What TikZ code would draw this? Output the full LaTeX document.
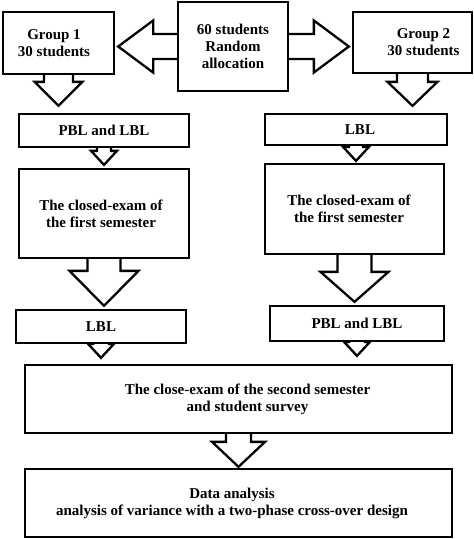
\documentclass[tikz,border=0pt]{standalone}
\usepackage{fontspec}
\setmainfont{Liberation Serif}
\usetikzlibrary{calc}

% block arrow pointing down: source, target, shaft half width, head half width, head length, gap
\newcommand{\blockdown}[6]{%
  \draw[blockarrow] let \p1=(#1.south), \p2=(#2.north) in
    (\x1-#3pt,\y1) -- (\x1-#3pt,\y2+#6pt+#5pt) -- (\x1-#4pt,\y2+#6pt+#5pt)
    -- (\x1,\y2+#6pt) -- (\x1+#4pt,\y2+#6pt+#5pt) -- (\x1+#3pt,\y2+#6pt+#5pt)
    -- (\x1+#3pt,\y1);
}

\begin{document}
\begin{tikzpicture}[
    x=1pt, y=-1pt,
    stage/.style={rectangle, draw, line width=2.3pt, inner sep=2pt, align=center,
      font=\bfseries\fontsize{15}{17}\selectfont},
    blockarrow/.style={draw, line width=2.3pt, line join=miter}
]
\useasboundingbox (0,0) rectangle (474,539);

% Top row
\node[stage, minimum width=111pt, minimum height=62pt] (g1) at (58.5, 43) {\hspace*{-9pt}Group 1\\\hspace*{-9pt}30 students};
\node[stage, minimum width=110pt, minimum height=89pt] (alloc) at (233, 46.5) {60 students\\Random\\allocation};
\node[stage, minimum width=119pt, minimum height=61pt] (g2) at (412.5, 42.5) {\hspace*{22pt}Group 2\\\hspace*{22pt}30 students};

% Group 1 path
\node[stage, minimum width=170pt, minimum height=33pt] (pbl1) at (104, 130.5) {PBL and LBL};
\node[stage, minimum width=170pt, minimum height=89pt] (exam1) at (104, 213.5) {\hspace*{-6pt}The closed-exam of\\\hspace*{-6pt}the first semester};
\node[stage, minimum width=170pt, minimum height=33pt] (lbl1) at (101, 326.5) {LBL};

% Group 2 path
\node[stage, minimum width=182pt, minimum height=31pt] (lbl2) at (356, 129.5) {\hspace*{8pt}LBL};
\node[stage, minimum width=179pt, minimum height=90pt] (exam2) at (354.5, 209) {\hspace*{-11pt}The closed-exam of\\\hspace*{-11pt}the first semester};
\node[stage, minimum width=174pt, minimum height=35pt] (pbl2) at (357, 323.5) {PBL and LBL};

% Common part
\node[stage, minimum width=427pt, minimum height=68pt] (exam3) at (238.5, 399) {\hspace*{18pt}The close-exam of the second semester\\\hspace*{18pt}and student survey};
\node[stage, minimum width=427pt, minimum height=68pt] (data) at (238.5, 503) {\hspace*{-13pt}Data analysis\\\hspace*{-13pt}analysis of variance with a two-phase cross-over design};

% Allocation arrows
\draw[blockarrow] let \p1=(alloc.west), \p2=(g1.east) in
  (\x1,\y1+12.5pt) -- (\x2+38pt,\y1+12.5pt) -- (\x2+38pt,\y1+26pt) -- (\x2+3pt,\y1)
  -- (\x2+38pt,\y1-26pt) -- (\x2+38pt,\y1-12.5pt) -- (\x1,\y1-12.5pt);
\draw[blockarrow] let \p1=(alloc.east), \p2=(g2.west) in
  (\x1,\y1+12.5pt) -- (\x2-38pt,\y1+12.5pt) -- (\x2-38pt,\y1+26pt) -- (\x2-3pt,\y1)
  -- (\x2-38pt,\y1-26pt) -- (\x2-38pt,\y1-12.5pt) -- (\x1,\y1-12.5pt);

% Down arrows
\blockdown{g1}{pbl1}{14.5}{24}{24}{7}
\blockdown{g2}{lbl2}{15.5}{25}{24}{7}
\blockdown{pbl1}{exam1}{7}{13}{14}{3}
\blockdown{lbl2}{exam2}{7}{13}{14}{2}
\blockdown{exam1}{lbl1}{16.5}{34.5}{35}{3}
\blockdown{exam2}{pbl2}{17}{34}{30}{3}
\blockdown{lbl1}{exam3}{7}{13}{14}{6}
\blockdown{pbl2}{exam3}{7}{13}{14}{8}
\blockdown{exam3}{data}{12.5}{26.5}{25}{1}

\end{tikzpicture}
\end{document}
